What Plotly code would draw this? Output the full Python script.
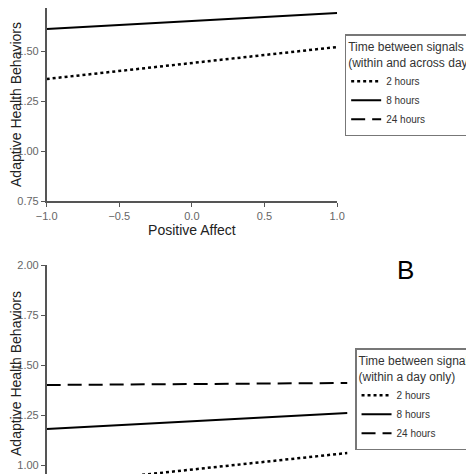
import plotly.graph_objects as go

# Data (endpoints of each simple-slope line)
x_vals = [-1.0, 1.0]
a_2h = [1.36, 1.52]
a_8h = [1.61, 1.69]
a_24h = [1.80, 1.86]  # above the visible (cropped) area
b_2h = [0.90, 1.06]
b_8h = [1.18, 1.26]
b_24h = [1.40, 1.41]
labels = ['2 hours', '8 hours', '24 hours']
dashes = ['dot', 'solid', '14px,7px']

W = H = 474
fig = go.Figure()

for ys, lab, d in zip([a_2h, a_8h, a_24h], labels, dashes):
    fig.add_trace(go.Scatter(x=x_vals, y=ys, mode='lines', name=lab,
                             line=dict(color='black', width=2.5 if d == 'dot' else 2, dash=d),
                             xaxis='x', yaxis='y', legend='legend'))
for ys, lab, d in zip([b_2h, b_8h, b_24h], labels, dashes):
    fig.add_trace(go.Scatter(x=x_vals, y=ys, mode='lines', name=lab,
                             line=dict(color='black', width=2.5 if d == 'dot' else 2, dash=d),
                             xaxis='x2', yaxis='y2', legend='legend2'))

font = 'Liberation Sans, Arial, sans-serif'
axis_common = dict(showline=True, linecolor='#555', linewidth=1.5, ticks='outside',
                   ticklen=4, tickcolor='#555', showgrid=False, zeroline=False,
                   automargin=False,
                   tickfont=dict(size=11, color='#666', family=font))

legend_common = dict(bordercolor='#777', borderwidth=1.5, bgcolor='white',
                     font=dict(size=10, color='#333', family=font),
                     xanchor='left', yanchor='top', tracegroupgap=0, itemwidth=30)

fig.update_layout(
    width=W, height=H, margin=dict(l=0, r=0, t=0, b=0),
    plot_bgcolor='white', paper_bgcolor='white',
    xaxis=dict(domain=[41 / W, 349 / W], range=[-1, 1], anchor='y',
               tickvals=[-1, -0.5, 0, 0.5, 1], tickformat='.1f',
               title=dict(text='Positive Affect', standoff=2,
                          font=dict(size=14, color='#222', family=font)),
               **axis_common),
    yaxis=dict(domain=[1 - 193 / H, 1], range=[0.75, 1.715], anchor='x',
               tickvals=[0.75, 1.0, 1.25, 1.5], tickformat='.2f',
               title=dict(text='Adaptive Health Behaviors', standoff=4,
                          font=dict(size=14, color='#222', family=font)),
               **axis_common),
    xaxis2=dict(domain=[41 / W, 360 / W], range=[-1, 1], anchor='y2', visible=False),
    yaxis2=dict(domain=[0, 1 - 257 / H], range=[0.915, 2.0], anchor='x2',
                tickvals=[1.0, 1.25, 1.5, 1.75, 2.0], tickformat='.2f',
                title=dict(text='Adaptive Health Behaviors', standoff=4,
                           font=dict(size=14, color='#222', family=font)),
                **axis_common),
    legend=dict(x=357 / W, y=1 - 26 / H,
                title=dict(text='Time between signals<br>(within and across days)'),
                **legend_common),
    legend2=dict(x=368 / W, y=1 - 340 / H,
                 title=dict(text='Time between signals<br>(within a day only)'),
                 **legend_common),
    annotations=[dict(text='B', x=433 / W, y=1 - 262 / H, xref='paper', yref='paper',
                      showarrow=False, font=dict(size=26, color='black', family=font))],
)

fig.write_html('out.html')
